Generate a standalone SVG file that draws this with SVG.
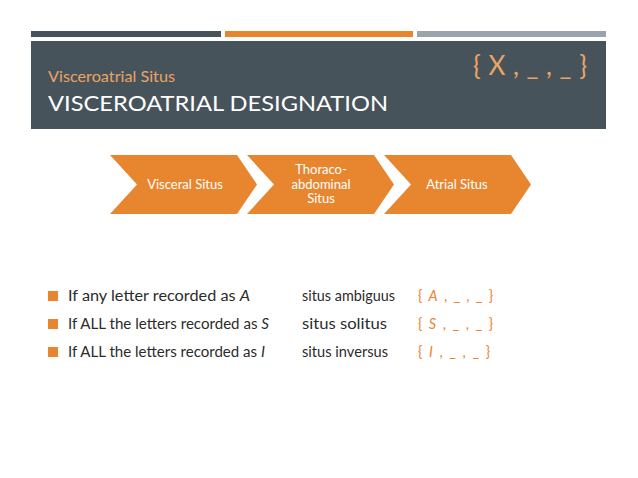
<svg xmlns="http://www.w3.org/2000/svg" width="638" height="478" viewBox="0 0 638 478">
<style>
text{font-family:Lato,"Liberation Sans",sans-serif}
.chev{fill:#e8862f}
.ct{fill:#fff;font-size:13px;text-anchor:middle}
.body{fill:#2b2b2b;font-size:14.5px}
.or{fill:#e8862f;font-size:14.5px}
.bul{fill:#e8862f}
</style>
<rect width="638" height="478" fill="#fff"/>
<rect x="31" y="31" width="190" height="6" fill="#47535a"/>
<rect x="225" y="31" width="188" height="6" fill="#e8862f"/>
<rect x="417" y="31" width="189" height="6" fill="#9ba4ad"/>
<rect x="31" y="41" width="575" height="88" fill="#47535a"/>
<text x="48" y="82" font-size="15" fill="#eaa466" textLength="127" lengthAdjust="spacingAndGlyphs">Visceroatrial Situs</text>
<text x="48" y="111" font-size="22" fill="#fff" textLength="340" lengthAdjust="spacingAndGlyphs">VISCEROATRIAL DESIGNATION</text>
<text x="473" y="75" font-size="26" fill="#eaa466" textLength="114" lengthAdjust="spacing">{ X , _ , _ }</text>
<g id="connectors"/>
<g id="n1"><polygon class="chev" points="110,155 237,155 257,184.5 237,214 110,214 137,184.5"/><text class="ct" x="185" y="188.5">Visceral Situs</text></g>
<g id="n2"><polygon class="chev" points="247,155 374,155 394,184.5 374,214 247,214 274,184.5"/><text class="ct" x="321" y="174">Thoraco-</text><text class="ct" x="321" y="188.5">abdominal</text><text class="ct" x="321" y="203">Situs</text></g>
<g id="n3"><polygon class="chev" points="384,155 511,155 531,184.5 511,214 384,214 411,184.5"/><text class="ct" x="457" y="188.5">Atrial Situs</text></g>
<g id="list">
<rect class="bul" x="48" y="291" width="10" height="10"/>
<rect class="bul" x="48" y="319" width="10" height="10"/>
<rect class="bul" x="48" y="347" width="10" height="10"/>
<text class="body" x="68" y="301" textLength="182" lengthAdjust="spacingAndGlyphs">If any letter recorded as <tspan font-style="italic">A</tspan></text>
<text class="body" x="68" y="329" textLength="201" lengthAdjust="spacingAndGlyphs">If ALL the letters recorded as <tspan font-style="italic">S</tspan></text>
<text class="body" x="68" y="357" textLength="197" lengthAdjust="spacingAndGlyphs">If ALL the letters recorded as <tspan font-style="italic">I</tspan></text>
<text class="body" x="302" y="301" textLength="93" lengthAdjust="spacingAndGlyphs">situs ambiguus</text>
<text class="body" x="302" y="329" textLength="85" lengthAdjust="spacingAndGlyphs">situs solitus</text>
<text class="body" x="302" y="357" textLength="86" lengthAdjust="spacingAndGlyphs">situs inversus</text>
<text class="or" x="418" y="301" textLength="75" lengthAdjust="spacing">{ <tspan font-style="italic">A</tspan> , _ , _ }</text>
<text class="or" x="418" y="329" textLength="75" lengthAdjust="spacing">{ <tspan font-style="italic">S</tspan> , _ , _ }</text>
<text class="or" x="418" y="357" textLength="72" lengthAdjust="spacing">{ <tspan font-style="italic">I</tspan> , _ , _ }</text>
</g>
</svg>
